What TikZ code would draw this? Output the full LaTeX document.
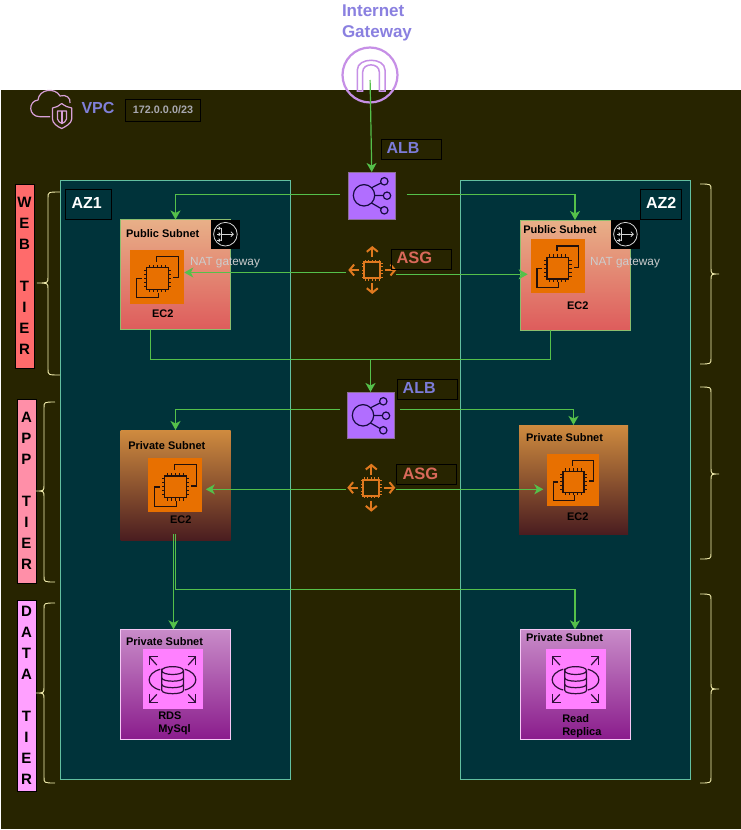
\documentclass[tikz,border=0pt]{standalone}
\usepackage{fontspec}
\setmainfont{Liberation Sans}
\usetikzlibrary{arrows.meta}
\definecolor{vpcbg}{HTML}{272400}
\definecolor{azbg}{HTML}{00333A}
\definecolor{azline}{HTML}{62BFA0}
\definecolor{conn}{HTML}{55C04A}
\definecolor{ecfill}{HTML}{E87000}
\definecolor{icink}{HTML}{24100A}
\definecolor{asgc}{HTML}{E0791F}
\definecolor{albfill}{HTML}{B16EFF}
\definecolor{albink}{HTML}{160C40}
\definecolor{dbfill}{HTML}{FF80FF}
\definecolor{dbink}{HTML}{30103A}
\definecolor{igwc}{HTML}{C68FE6}
\definecolor{vpcic}{HTML}{D8A0D8}
\definecolor{titlec}{HTML}{8A80E0}
\definecolor{albc}{HTML}{7C7CD8}
\definecolor{asgt}{HTML}{D9695A}
\definecolor{bracec}{HTML}{F5F0B0}
\tikzset{
  box/.style={rectangle,inner sep=0pt,outer sep=0pt,anchor=north west},
  azone/.style={box,minimum width=230pt,minimum height=599pt,fill=azbg,draw=azline,line width=1pt},
  subn/.style={box,minimum width=110pt,minimum height=110pt},
  pubn/.style={subn,top color={rgb,255:red,232;green,176;blue,136},bottom color={rgb,255:red,222;green,92;blue,92},draw={rgb,255:red,140;green,190;blue,110},line width=1pt},
  privn/.style={subn,top color={rgb,255:red,207;green,139;blue,63},bottom color={rgb,255:red,74;green,29;blue,32}},
  datan/.style={subn,top color={rgb,255:red,201;green,140;blue,201},bottom color={rgb,255:red,138;green,28;blue,140},draw={rgb,255:red,245;green,200;blue,245},line width=1pt},
  tag/.style={box,draw=black,line width=0.8pt},
  tlbl/.style={inner sep=0pt,outer sep=0pt,anchor=west,font=\bfseries\fontsize{11}{13}\selectfont,text=black},
  blue16/.style={inner sep=0pt,outer sep=0pt,anchor=west,font=\bfseries\fontsize{16}{19}\selectfont,text=albc},
  asg16/.style={inner sep=0pt,outer sep=0pt,anchor=west,font=\bfseries\fontsize{16.5}{19}\selectfont,text=asgt},
  white16/.style={inner sep=0pt,outer sep=0pt,anchor=west,font=\bfseries\fontsize{16}{19}\selectfont,text=white},
  natl/.style={inner sep=0pt,outer sep=0pt,anchor=west,font=\fontsize{11.8}{14}\selectfont,text={rgb,255:red,205;green,205;blue,205}},
  tier/.style={box,draw=black,line width=0.6pt,minimum width=19pt,align=center,text=black,font=\bfseries\fontsize{15}{21}\selectfont},
  cline/.style={draw=conn,line width=1.2pt},
  carrow/.style={cline,-{Stealth[length=9pt,width=10pt,inset=2.5pt]}},
  bracel/.style={draw=bracec,line width=0.9pt},
  inkl/.style={draw=icink,line width=1.3pt},
}
\newcommand{\ecicon}[4]{%
  \node[box,fill=ecfill,minimum size=#4 pt] (#1) at (#2,#3) {};
  \pgfmathsetmacro{\iconk}{#4/54}
  \begin{scope}[shift={(#2,#3)},x=\iconk pt,y=-\iconk pt]
    \draw[inkl] (16.3,18) rectangle (38,39.7);
    \foreach \d in {-8,-4,0,4,8}{
      \draw[inkl,line width=0.9pt] (27.2+\d,18) -- (27.2+\d,15);
      \draw[inkl,line width=0.9pt] (27.2+\d,39.7) -- (27.2+\d,42.7);
      \draw[inkl,line width=0.9pt] (16.3,28.8+\d) -- (13.3,28.8+\d);
      \draw[inkl,line width=0.9pt] (38,28.8+\d) -- (41,28.8+\d);
    }
    \draw[inkl] (26.3,12) -- (26.3,6.7) -- (48,6.7) -- (48,28) -- (43,28);
    \draw[inkl] (11.3,29) -- (6.3,29) -- (6.3,48.3) -- (28,48.3) -- (28,43);
  \end{scope}}
\newcommand{\dbicon}[3]{%
  \node[box,fill=dbfill,minimum size=60pt] (#1) at (#2,#3) {};
  \begin{scope}[shift={(#2,#3)},draw=dbink,line width=1.2pt]
    \draw (19.3,21.3) .. controls (19.3,16) and (41,16) .. (41,21.3) .. controls (41,26.5) and (19.3,26.5) .. (19.3,21.3) -- (19.3,41) .. controls (19.3,45.5) and (41,45.5) .. (41,41) -- (41,21.3);
    \draw (19.3,28.5) .. controls (19.3,33) and (41,33) .. (41,28.5);
    \draw (19.3,35) .. controls (19.3,39.5) and (41,39.5) .. (41,35);
    \draw (17.7,20) .. controls (3,24) and (3,37) .. (17.7,40.7);
    \draw (42.3,20) .. controls (57,24) and (57,37) .. (42.3,40.7);
    \draw (14.3,15.7) -- (6.7,7.3); \draw (6.7,15.7) -- (6.7,7.3) -- (15,7.3);
    \draw (45.7,15.7) -- (53.3,7.3); \draw (53.3,15.7) -- (53.3,7.3) -- (45,7.3);
    \draw (14.3,45) -- (6.7,53.3); \draw (6.7,45) -- (6.7,53.3) -- (15,53.3);
    \draw (45.7,45) -- (53.3,53.3); \draw (53.3,45) -- (53.3,53.3) -- (45,53.3);
  \end{scope}}
\newcommand{\albicon}[5]{%
  \node[box,fill=albfill,draw={rgb,255:red,140;green,110;blue,150},line width=0.7pt,minimum width=#4 pt,minimum height=#5 pt] (#1) at (#2,#3) {};
  \begin{scope}[shift={(#2,#3)},draw=albink,line width=1.2pt]
    \draw (16,23.3) circle[radius=10.7];
    \draw (36.3,9.3) circle[radius=3.7];
    \draw (39,23.7) circle[radius=3.7];
    \draw (36.3,38.3) circle[radius=3.7];
    \draw (23.5,15.8) -- (33,11); \draw (26.7,23.5) -- (35.3,23.6); \draw (23.5,31) -- (33,36.5);
  \end{scope}}
\newcommand{\asgicon}[2]{%
  \begin{scope}[shift={(#1,#2)},draw=asgc,line width=2pt]
    \draw (-8,-8) rectangle (8,8);
    \foreach \d in {-7,-3.5,0,3.5,7}{
      \draw[line width=1pt] (\d,-8) -- (\d,-10.5);
      \draw[line width=1pt] (\d,8) -- (\d,10.5);
      \draw[line width=1pt] (-8,\d) -- (-10.5,\d);
      \draw[line width=1pt] (8,\d) -- (10.5,\d);
    }
    \draw[-{Straight Barb[length=4.5pt,width=11pt]}] (0,-13) -- (0,-24);
    \draw[-{Straight Barb[length=4.5pt,width=11pt]}] (0,13) -- (0,24);
    \draw[-{Straight Barb[length=4.5pt,width=11pt]}] (-13,0) -- (-24,0);
    \draw[-{Straight Barb[length=4.5pt,width=11pt]}] (13,0) -- (24,0);
  \end{scope}}
\newcommand{\naticon}[3]{%
  \node[box,fill=black,minimum width=29.5pt,minimum height=29.5pt] (#1) at (#2,#3) {};
  \begin{scope}[shift={(#2+14.7,#3+14.7)},draw={rgb,255:red,215;green,215;blue,215},line width=0.8pt]
    \draw (0,0) circle[radius=11.8];
    \draw (-4.3,-6.7) -- (-4.3,7);
    \draw[-{Straight Barb[length=2.5pt,width=5pt]}] (-4.3,0) -- (8.5,0);
    \foreach \d in {-6,0,6}{\draw[-{Straight Barb[length=1.5pt,width=3pt]}] (-8.5,\d) -- (-4.6,\d);}
  \end{scope}}
\newcommand{\tbrace}[6]{%
  \draw[bracel] (#1,#3) .. controls (#2,#3) .. (#2,#3+6) -- (#2,#4-6) .. controls (#2,#4) .. (#5,#4) .. controls (#2,#4) .. (#2,#4+6) -- (#2,#6-6) .. controls (#2,#6) .. (#1,#6);}
\begin{document}
\begin{tikzpicture}[x=1pt,y=-1pt]
\useasboundingbox (0,0) rectangle (741,830);
\fill[white] (0,0) rectangle (741,830);
\node[box,fill=vpcbg,minimum width=740pt,minimum height=738.5pt] (vpc) at (1,90) {};
% availability zones
\node[azone] (az1) at (60.5,180) {};
\node[azone] (az2) at (460.5,180) {};
% subnets
\node[pubn] (pub1) at (120.5,219.5) {};
\node[pubn] (pub2) at (520,220) {};
\node[privn] (priv1) at (120.5,430) {};
\node[privn,minimum width=109pt,minimum height=109pt] (priv2) at (519,425) {};
\node[datan] (data1) at (120.5,629.3) {};
\node[datan] (data2) at (520,629.3) {};
% icons
\ecicon{ec2a}{130.3}{249.5}{54}
\ecicon{ec2b}{530.7}{239.3}{54}
\ecicon{ec2c}{148.3}{458}{54}
\ecicon{ec2d}{547.3}{454}{52}
\dbicon{db1}{142.5}{649.3}
\dbicon{db2}{545.5}{649.3}
\albicon{alb1}{348}{172}{47.5}{47.5}
\albicon{alb2}{347}{392}{47}{46}
\naticon{nat1}{210.7}{219.5}
\naticon{nat2}{610.7}{219.5}
\asgicon{372.3}{270}
\asgicon{371.3}{487.7}
\node[minimum width=50pt,minimum height=48pt,inner sep=0pt,outer sep=0pt] (asg1) at (371,270) {};
\node[minimum width=50pt,minimum height=48pt,inner sep=0pt,outer sep=0pt] (asg2) at (371,487.7) {};
% internet gateway
\node[circle,draw=igwc,line width=2.2pt,minimum size=55pt,inner sep=0pt,outer sep=0pt] (igw) at (370,75) {};
\draw[draw=igwc,line width=1.5pt] (357.3,91) -- (357.3,70) .. controls (357.3,57) and (385,57) .. (385,70) -- (385,91) -- (379.3,91) -- (379.3,72) .. controls (379.3,62.5) and (362.7,62.5) .. (362.7,72) -- (362.7,91) -- cycle;
% vpc icon
\draw[draw=vpcic,line width=1.2pt,line join=round] (50,116.7) -- (40,116.7) .. controls (28,116.7) and (28,101) .. (38,100) .. controls (39,89) and (55,87) .. (60,96) .. controls (66,94) and (71,98) .. (70,103);
\draw[draw=vpcic,line width=1.2pt,line join=round] (61.7,103.5) .. controls (65,106) and (68,107.5) .. (71.7,108) -- (71.7,119) .. controls (71.7,123) and (66,126.5) .. (61.7,128.5) .. controls (57,126.5) and (52.5,123) .. (52.5,119) -- (52.5,108) .. controls (56,107.5) and (59,106) .. cycle;
\draw[draw=vpcic,line width=1.2pt,line join=round] (57.5,111) -- (66.5,111) -- (66.5,119) .. controls (66.5,121) and (63.5,123) .. (62,123.5) .. controls (60.5,123) and (57.5,121) .. (57.5,119) -- cycle;
\draw[draw=vpcic,line width=1.2pt] (62,111) -- (62,123);
% connectors
\draw[carrow,shorten <=5pt] (igw.center) -- (alb1.north);
\draw[carrow,shorten <=8pt] ([yshift=1.2pt]alb1.west) -| (pub1.north);
\draw[carrow,shorten <=11pt] ([yshift=1.2pt]alb1.east) -| (pub2.north);
\draw[carrow] ([yshift=-2.5pt]asg1.west) -- ([yshift=4pt]ec2a.east);
\draw[carrow,shorten >=3pt] ([yshift=-4.3pt]asg1.east) -- ([yshift=-8pt]ec2b.west);
\coordinate (bus) at (370.5,359.3);
\draw[cline] ([xshift=-25pt]pub1.south) |- (bus);
\draw[cline] ([xshift=-24.3pt]pub2.south) |- (bus);
\draw[carrow] (bus) -- (alb2.north);
\draw[carrow,shorten <=7pt] ([yshift=5.7pt]alb2.west) -| (priv1.north);
\draw[carrow,shorten <=6pt] ([yshift=5.7pt]alb2.east) -| (priv2.north);
\draw[carrow,shorten >=3.5pt] ([yshift=-1.6pt]asg2.west) -- ([yshift=-4.3pt]ec2c.east);
\draw[carrow,shorten >=4pt] ([yshift=-1.6pt]asg2.east) -- ([yshift=-9.3pt]ec2d.west);
\draw[carrow] ([xshift=-2pt,yshift=6pt]priv1.south) -- ([xshift=-2pt]data1.north);
\coordinate (dbbus) at (450,589.3);
\draw[carrow] ([yshift=6pt]priv1.south) |- (dbbus) -| (data2.north);
% labels
\node[inner sep=0pt,outer sep=0pt,anchor=west,align=left,font=\bfseries\fontsize{17}{21}\selectfont,text=titlec] (igwl) at (342,23) {Internet\\Gateway};
\node[blue16,text={rgb,255:red,128;green,128;blue,216}] (vpcl) at (81.5,107.5) {VPC};
\node[tag,minimum width=75pt,minimum height=22pt] (cidrb) at (125.5,99) {};
\node[inner sep=0pt,outer sep=0pt,font=\bfseries\fontsize{10.8}{13}\selectfont,text={rgb,255:red,168;green,168;blue,176}] (cidr) at (cidrb.center) {172.0.0.0/23};
\node[tag,minimum width=60pt,minimum height=20pt] (alb1b) at (381,139) {};
\node[blue16] (alb1l) at (386.5,148) {ALB};
\node[tag,minimum width=60pt,minimum height=20pt] (alb2b) at (397,379) {};
\node[blue16] (alb2l) at (402.7,388) {ALB};
\node[tag,minimum width=60pt,minimum height=20pt] (asg1b) at (391,249) {};
\node[asg16] (asg1l) at (396.5,258) {ASG};
\node[tag,minimum width=60pt,minimum height=20pt] (asg2b) at (396.5,464.5) {};
\node[asg16] (asg2l) at (402.5,473.5) {ASG};
\node[tag,minimum width=46pt,minimum height=30pt] (az1b) at (65,189.5) {};
\node[white16] (az1l) at (71.5,203) {AZ1};
\node[tag,minimum width=41pt,minimum height=30pt] (az2b) at (640,189.3) {};
\node[white16] (az2l) at (646,203) {AZ2};
\node[tlbl] (s1) at (126,233.5) {Public Subnet};
\node[tlbl] (s2) at (523.3,229.5) {Public Subnet};
\node[tlbl] (s3) at (128.3,445.5) {Private Subnet};
\node[tlbl] (s4) at (526,437.5) {Private Subnet};
\node[tlbl] (s5) at (126,641.5) {Private Subnet};
\node[tlbl] (s6) at (526,637.5) {Private Subnet};
\node[tlbl,anchor=center] (e1) at (162.7,313.3) {EC2};
\node[tlbl,anchor=center] (e2) at (577.7,305.3) {EC2};
\node[tlbl,anchor=center] (e3) at (180.7,519.3) {EC2};
\node[tlbl,anchor=center] (e4) at (577.7,517) {EC2};
\node[tlbl] (r1) at (158.3,716) {RDS};
\node[tlbl] (r2) at (158.3,730) {MySql};
\node[tlbl] (r3) at (562.3,718.3) {Read};
\node[tlbl] (r4) at (562.3,732.3) {Replica};
\node[natl] (n1) at (190,263) {NAT gateway};
\node[natl] (n2) at (590,263) {NAT gateway};
% tiers
\node[tier,fill={rgb,255:red,255;green,107;blue,107},minimum height=184pt] (webt) at (15,184) {W\\E\\B\\ \\T\\I\\E\\R};
\node[tier,fill={rgb,255:red,255;green,143;blue,168},minimum height=184pt] (appt) at (17,399) {A\\P\\P\\ \\T\\I\\E\\R};
\node[tier,fill={rgb,255:red,255;green,160;blue,255},minimum height=191pt] (datat) at (17,600) {D\\A\\T\\A\\ \\T\\I\\E\\R};
% braces
\tbrace{60}{48}{192}{283}{37}{375}
\tbrace{55}{44}{402}{491}{36}{582}
\tbrace{55}{44}{603}{693}{36}{783}
\tbrace{700}{711}{184}{274}{719}{364}
\tbrace{700}{711}{387}{474}{719}{559}
\tbrace{700}{711}{594}{689}{719}{783}
\end{tikzpicture}
\end{document}
